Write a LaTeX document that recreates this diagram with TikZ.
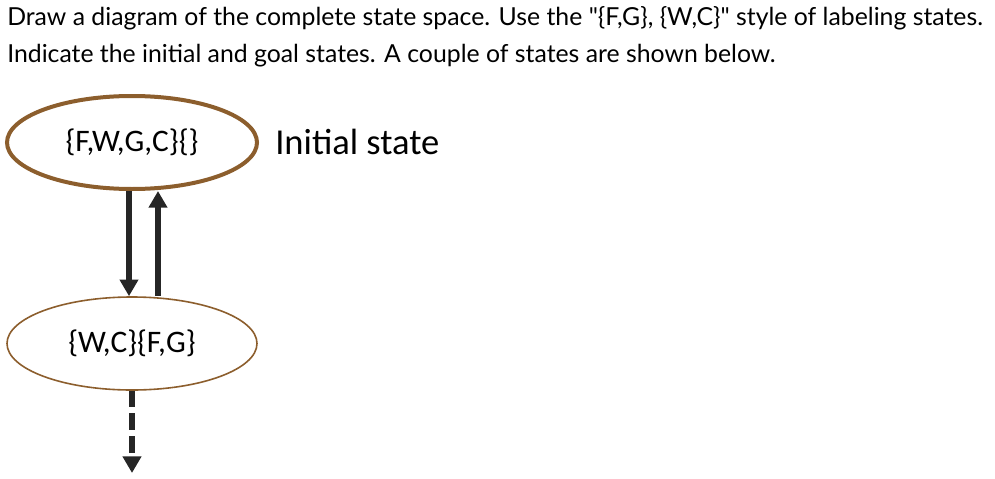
\documentclass[tikz,border=0pt]{standalone}
\usepackage{fontspec}
\setmainfont{Lato}
\newfontfamily\statefont{Carlito}
\usetikzlibrary{shapes.geometric,arrows.meta}
\definecolor{statebrown}{RGB}{140,94,45}
\definecolor{arrowgray}{RGB}{38,38,38}
\begin{document}
\begin{tikzpicture}[
        x=0.75pt, y=-0.75pt,
        state/.style= {
            ellipse, draw=statebrown, font=\statefont\fontsize{23.5}{27}\selectfont,
            minimum width=250*0.75pt, minimum height=93*0.75pt, inner sep=0pt
        },
        initial state/.style = {
                state, line width=3pt
            },
        move/.style = {
                draw=arrowgray, line width=3.9pt,
                -{Triangle[length=12.5pt, width=13.5pt]}
            },
        question/.style = {
                anchor=base west, inner sep=0pt,
                font=\fontsize{18.6}{22}\selectfont
            },
        ]
        \useasboundingbox (0,0) rectangle (995,478);
        \node [question] (line1) at (7,26)
            {Draw a diagram of the complete state space. Use the \textquotedbl\{F,G\}, \{W,C\}\textquotedbl{} style of labeling states.};
        \node [question] (line2) at (7,63)
            {Indicate the initial and goal states. A couple of states are shown below.};
        \node [initial state] (start) at (132,142.5) {\{F,W,G,C\}\{\}};
        \node [state, line width=1.2pt] (next) at (132,343.5) {\{W,C\}\{F,G\}};
        \node [anchor=base west, inner sep=0pt, font=\statefont\fontsize{27.4}{30}\selectfont]
            (label) at (275,154) {Initial state};
        \draw [move] (start.south -| 129,0) -- (next.north -| 129,0);
        \draw [move] (next.north -| 158,0) -- (start.south -| 158,0);
        \coordinate (more) at (132,473);
        \draw [move, dash pattern=on 12.5pt off 4.5pt] (next.south) -- (more);
    \end{tikzpicture}
\end{document}
